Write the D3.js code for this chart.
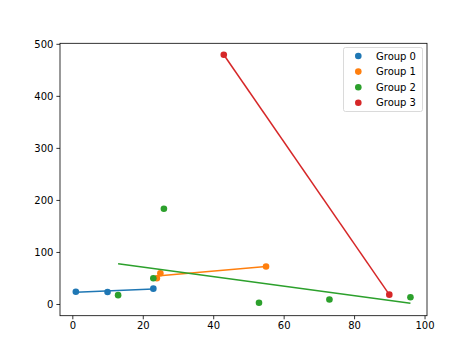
<!DOCTYPE html>
<html>
<head>
<meta charset="utf-8">
<script src="https://cdn.jsdelivr.net/npm/d3@7"></script>
<style>
  body { margin: 0; background: #fff; }
  text { font-family: "DejaVu Sans", sans-serif; }
</style>
</head>
<body>
<div id="chart"></div>
<script>
// values
let groups = ["Group 0", "Group 1", "Group 2", "Group 3"];
let colors = ["#1f77b4", "#ff7f0e", "#2ca02c", "#d62728"];

let group0 = [[1, 23.5], [10, 23], [23, 29.5]];
let group1 = [[24, 49.5], [25, 59], [55, 72]];
let group2 = [[13, 17], [23, 49.5], [26, 183], [53, 2.5], [73, 8.5], [96, 13]];
let group3 = [[43, 479], [90, 18]];

// fitted line ends, as seen
let fit0 = [[1, 22.5], [23, 29]];
let fit1 = [[24, 54], [55, 72]];
let fit2 = [[13, 77.5], [96, 1.5]];
let fit3 = [[43, 479], [90, 18]];

let xTicks = [0, 20, 40, 60, 80, 100];
let yTicks = [0, 100, 200, 300, 400, 500];

let points = [group0, group1, group2, group3];
let fits = [fit0, fit1, fit2, fit3];

let w = 474;
let h = 355;
let margin = { top: 43.3, right: 47, bottom: 39.3, left: 60 };

let svg = d3.select("#chart")
  .append("svg")
  .attr("width", w)
  .attr("height", h);

let xScale = d3.scaleLinear()
  .domain([-3.5, 100.7])
  .range([margin.left, w - margin.right]);

let yScale = d3.scaleLinear()
  .domain([-22.5, 501])
  .range([h - margin.bottom, margin.top]);

let line = d3.line()
  .x(d => xScale(d[0]))
  .y(d => yScale(d[1]));

groups.forEach((g, i) => {
  svg.selectAll(".dot" + i)
    .data(points[i])
    .enter()
    .append("circle")
    .attr("cx", d => xScale(d[0]))
    .attr("cy", d => yScale(d[1]))
    .attr("r", 3.3)
    .attr("fill", colors[i]);

  svg.append("path")
    .datum(fits[i])
    .attr("fill", "none")
    .attr("stroke", colors[i])
    .attr("stroke-width", 1.5)
    .attr("d", line);
});

// axes
let xAxis = svg.append("g")
  .attr("transform", "translate(0," + (h - margin.bottom) + ")")
  .call(d3.axisBottom(xScale).tickValues(xTicks).tickSize(3.6).tickPadding(3).tickSizeOuter(0));

let yAxis = svg.append("g")
  .attr("transform", "translate(" + margin.left + ",0)")
  .call(d3.axisLeft(yScale).tickValues(yTicks).tickSize(3.6).tickPadding(3).tickSizeOuter(0));

[xAxis, yAxis].forEach(a => {
  a.select(".domain").remove();
  a.selectAll("line").attr("stroke", "#000").attr("stroke-width", 0.8);
  a.selectAll("text")
    .attr("fill", "#000")
    .style("font-size", "10px")
    .style("font-family", "DejaVu Sans, sans-serif");
});

// frame
svg.append("rect")
  .attr("x", margin.left)
  .attr("y", margin.top)
  .attr("width", w - margin.left - margin.right)
  .attr("height", h - margin.top - margin.bottom)
  .attr("fill", "none")
  .attr("stroke", "#000")
  .attr("stroke-width", 0.8);

// legend
let legend = svg.append("g");
legend.append("rect")
  .attr("x", 343.5)
  .attr("y", 47.5)
  .attr("width", 79)
  .attr("height", 64)
  .attr("rx", 2)
  .attr("fill", "#fff")
  .attr("fill-opacity", 0.8)
  .attr("stroke", "#d0d0d0")
  .attr("stroke-width", 0.8);

groups.forEach((g, i) => {
  let y = 56 + i * 15.6;
  legend.append("circle")
    .attr("cx", 358.3)
    .attr("cy", y)
    .attr("r", 3.3)
    .attr("fill", colors[i]);
  legend.append("text")
    .attr("x", 376)
    .attr("y", y)
    .attr("dy", "0.35em")
    .style("font-size", "10px")
    .text(g);
});
</script>
</body>
</html>
